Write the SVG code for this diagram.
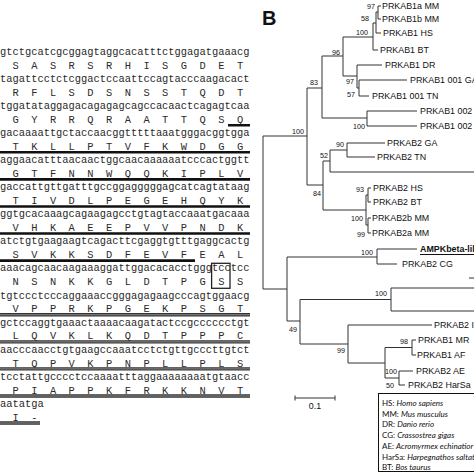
<svg xmlns="http://www.w3.org/2000/svg" width="474" height="474" viewBox="0 0 474 474">
<style>
.nt{font-family:"Liberation Mono","Courier New",monospace;font-size:10.4px;fill:#2a2a2a;white-space:pre}
.ul{stroke:#111;stroke-width:2.6;fill:none}
.dl{stroke:#333;stroke-width:3.4;fill:none}
.dli{stroke:#9a9a9a;stroke-width:0.9;fill:none}
.tip{font-family:"Liberation Sans",Arial,sans-serif;font-size:8.9px;fill:#111}
.bs{font-family:"Liberation Sans",Arial,sans-serif;font-size:7.2px;fill:#111;text-anchor:end}
.br{stroke:#333;stroke-width:1;fill:none}
.lg{font-family:Lato,"Liberation Sans",sans-serif;font-size:8px;fill:#111}
</style>
<rect width="474" height="474" fill="#fff"/>
<g id="sequence" xml:space="preserve">
<text class="nt" x="0" y="54.8">gtctgcatcgcggagtaggcacatttctggagatgaaacg</text>
<text class="nt" x="0" y="68.6">  S  A  S  R  S  R  H  I  S  G  D  E  T</text>
<text class="nt" x="0" y="81.9">tagattcctctcggactccaattccagtacccaagacact</text>
<text class="nt" x="0" y="95.7">  R  F  L  S  D  S  N  S  S  T  Q  D  T</text>
<text class="nt" x="0" y="109.0">tggatataggagacagagagcagccacaactcagagtcaa</text>
<text class="nt" x="0" y="122.8">  G  Y  R  R  Q  R  A  A  T  T  Q  S  Q</text>
<text class="nt" x="0" y="136.0">gacaaaattgctaccaacggtttttaaatgggacggtgga</text>
<text class="nt" x="0" y="149.8">  T  K  L  L  P  T  V  F  K  W  D  G  G</text>
<text class="nt" x="0" y="163.1">aggaacatttaacaactggcaacaaaaaatcccactggtt</text>
<text class="nt" x="0" y="176.9">  G  T  F  N  N  W  Q  Q  K  I  P  L  V</text>
<text class="nt" x="0" y="190.2">gaccattgttgatttgccggagggggagcatcagtataag</text>
<text class="nt" x="0" y="204.0">  T  I  V  D  L  P  E  G  E  H  Q  Y  K</text>
<text class="nt" x="0" y="217.3">ggtgcacaaagcagaagagcctgtagtaccaaatgacaaa</text>
<text class="nt" x="0" y="231.1">  V  H  K  A  E  E  P  V  V  P  N  D  K</text>
<text class="nt" x="0" y="244.4">atctgtgaagaagtcagacttcgaggtgtttgaggcactg</text>
<text class="nt" x="0" y="258.2">  S  V  K  K  S  D  F  E  V  F  E  A  L</text>
<text class="nt" x="0" y="271.4">aaacagcaacaagaaaggattggacacacctgggtcctcc</text>
<text class="nt" x="0" y="285.2">  N  S  N  K  K  G  L  D  T  P  G  S  S</text>
<text class="nt" x="0" y="298.5">tgtccctcccaggaaaccgggagagaagcccagtggaacg</text>
<text class="nt" x="0" y="312.3">  V  P  P  R  K  P  G  E  K  P  S  G  T</text>
<text class="nt" x="0" y="325.6">gctccaggtgaaactaaaacaagatactccgcccccctgt</text>
<text class="nt" x="0" y="339.4">  L  Q  V  K  L  K  Q  D  T  P  P  P  C</text>
<text class="nt" x="0" y="352.8">aacccaacctgtgaagccaaatcctctgttgcccttgtct</text>
<text class="nt" x="0" y="366.6">  T  Q  P  V  K  P  N  P  L  L  P  L  S</text>
<text class="nt" x="0" y="379.8">tcctattgcccctccaaaatttaggaaaaaaaatgtaacc</text>
<text class="nt" x="0" y="393.6">  P  I  A  P  P  K  F  R  K  K  N  V  T</text>
<text class="nt" x="0" y="406.9">aatatga</text>
<text class="nt" x="0" y="420.7">  I  -</text>
</g>
<g id="underlines">
<path class="ul" d="M228 125.2H250M0 152.3H250M0 179.4H250M0 206.5H250M0 233.5H250M0 260.6H195"/>
<path class="dl" d="M0 314.8H250M0 341.9H250M0 368.9H250M0 396H250M0 423H40"/>
<path class="dli" d="M0 314.8H250M0 341.9H250M0 368.9H250M0 396H250M0 423H40"/>
<rect x="211.6" y="263.3" width="18.4" height="25" fill="none" stroke="#222" stroke-width="1.3"/>
</g>
<g id="panel-label"><text x="262" y="25" font-family="Liberation Sans,Arial,sans-serif" font-size="20" font-weight="bold" fill="#111">B</text></g>
<g id="connectors">
<path class="br" d="M263 136V289M263 136H307M307 88V185M307 88H322M322 56V118M322 56H343M343 37V76M343 37H373M373 23V50M373 23H376M376 12V33M376 12H378M378 6V19M378 6H381M378 19H381M376 33H381M373 50H378M343 76H357M357 65V88M357 65H382M357 88H359M359 80V96M359 80H407M359 96H369M322 118H367M367 111V126M367 111H417M367 126H417M307 185H323M323 161V210M323 161H330M330 150V172M330 150H347M347 143V157M347 143H385M347 157H375M330 172H474M323 210H366M366 195V225M366 195H368M368 188V202M368 188H371M368 202H371M366 225H368M368 218V233M368 218H371M368 233H371M263 289H287M287 257V321M287 257H377M377 249V264M377 249H417M377 264H397M287 321H300M300 299.5V344M300 299.5H391M391 288V311M391 288H474M391 311H474M469 278H474M300 344H348M348 325V363M348 325H432M348 363H385M385 347.5V378M385 347.5H412M412 340V355M412 340H416M412 355H416M385 378H399M399 371V385M399 371H413M399 385H405"/>
</g>
<g id="bootstrap">
<text class="bs" x="375" y="9">97</text>
<text class="bs" x="369" y="21">58</text>
<text class="bs" x="368" y="35">100</text>
<text class="bs" x="340" y="55">96</text>
<text class="bs" x="318" y="85">83</text>
<text class="bs" x="354" y="84">97</text>
<text class="bs" x="355" y="97">57</text>
<text class="bs" x="365" y="129">100</text>
<text class="bs" x="304" y="134">100</text>
<text class="bs" x="344" y="147">90</text>
<text class="bs" x="328" y="158">52</text>
<text class="bs" x="321" y="196">84</text>
<text class="bs" x="364" y="192">93</text>
<text class="bs" x="363" y="221">100</text>
<text class="bs" x="365" y="237">99</text>
<text class="bs" x="373" y="255">100</text>
<text class="bs" x="387" y="296">100</text>
<text class="bs" x="297" y="332">49</text>
<text class="bs" x="408" y="344">98</text>
<text class="bs" x="345" y="353">99</text>
<text class="bs" x="397" y="374">100</text>
<text class="bs" x="394" y="388">50</text>
</g>
<g id="tip-PRKAB1a-MM"><text class="tip" x="382" y="9">PRKAB1a MM</text></g>
<g id="tip-PRKAB1b-MM"><text class="tip" x="382" y="22">PRKAB1b MM</text></g>
<g id="tip-PRKAB1-HS"><text class="tip" x="383" y="36">PRKAB1 HS</text></g>
<g id="tip-PRKAB1-BT"><text class="tip" x="380" y="53">PRKAB1 BT</text></g>
<g id="tip-PRKAB1-DR"><text class="tip" x="385" y="68">PRKAB1 DR</text></g>
<g id="tip-PRKAB1-001-GA"><text class="tip" x="410" y="83" font-size="8.3">PRKAB1 001 GA</text></g>
<g id="tip-PRKAB1-001-TN"><text class="tip" x="372" y="99">PRKAB1 001 TN</text></g>
<g id="tip-PRKAB1-002-a"><text class="tip" x="420" y="114">PRKAB1 002</text></g>
<g id="tip-PRKAB1-002-b"><text class="tip" x="420" y="129">PRKAB1 002</text></g>
<g id="tip-PRKAB2-GA"><text class="tip" x="387" y="146">PRKAB2 GA</text></g>
<g id="tip-PRKAB2-TN"><text class="tip" x="377" y="160">PRKAB2 TN</text></g>
<g id="tip-PRKAB2-HS"><text class="tip" x="373" y="191">PRKAB2 HS</text></g>
<g id="tip-PRKAB2-BT"><text class="tip" x="373" y="205">PRKAB2 BT</text></g>
<g id="tip-PRKAB2b-MM"><text class="tip" x="372" y="221">PRKAB2b MM</text></g>
<g id="tip-PRKAB2a-MM"><text class="tip" x="372" y="236">PRKAB2a MM</text></g>
<g id="tip-AMPKbeta-like"><text class="tip" x="420" y="252" font-weight="bold" font-size="8.5">AMPKbeta-like</text><path d="M420 254.5H474" stroke="#111" stroke-width="1"/></g>
<g id="tip-PRKAB2-CG"><text class="tip" x="402" y="267">PRKAB2 CG</text></g>
<g id="tip-PRKAB2-I"><text class="tip" x="434" y="328">PRKAB2 I</text></g>
<g id="tip-PRKAB1-MR"><text class="tip" x="418" y="343">PRKAB1 MR</text></g>
<g id="tip-PRKAB1-AF"><text class="tip" x="417" y="358">PRKAB1 AF</text></g>
<g id="tip-PRKAB2-AE"><text class="tip" x="416" y="374">PRKAB2 AE</text></g>
<g id="tip-PRKAB2-HarSa"><text class="tip" x="408" y="388">PRKAB2 HarSa</text></g>
<g id="scale-bar">
<path class="br" d="M295 398H335M295 395.5V400.5M335 395.5V400.5"/>
<text class="tip" x="315" y="409" text-anchor="middle" font-size="7.5">0.1</text>
</g>
<g id="legend">
<rect x="378.5" y="393.5" width="100" height="78" fill="none" stroke="#111" stroke-width="1"/>
<text class="lg" x="382" y="406">HS: <tspan font-style="italic">Homo sapiens</tspan></text>
<text class="lg" x="382" y="416.7">MM: <tspan font-style="italic">Mus musculus</tspan></text>
<text class="lg" x="382" y="427.4">DR: <tspan font-style="italic">Danio rerio</tspan></text>
<text class="lg" x="382" y="438.1">CG: <tspan font-style="italic">Crassostrea gigas</tspan></text>
<text class="lg" x="382" y="448.8">AE: <tspan font-style="italic">Acromyrmex echinatior</tspan></text>
<text class="lg" x="382" y="459.5">HarSa: <tspan font-style="italic">Harpegnathos saltator</tspan></text>
<text class="lg" x="382" y="470.2">BT: <tspan font-style="italic">Bos taurus</tspan></text>
</g>
</svg>
